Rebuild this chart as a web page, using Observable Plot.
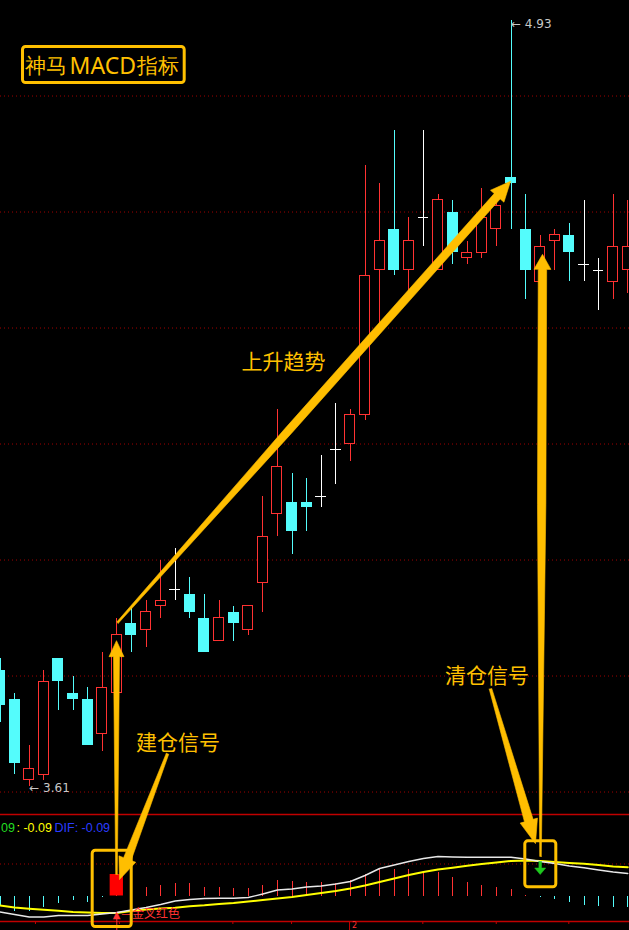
<!DOCTYPE html>
<html><head><meta charset="utf-8">
<script src="https://cdn.jsdelivr.net/npm/d3@7"></script>
<script src="https://cdn.jsdelivr.net/npm/@observablehq/plot@0.6"></script>
<style>
html,body{margin:0;padding:0;background:#000;}
#wrap{position:relative;width:629px;height:930px;overflow:hidden;background:#000;}
#wrap > svg{position:absolute;left:0;}
</style></head><body><div id="wrap"></div>
<script>
// ---------- data ----------
const opens  = [3.81,3.76,3.62,3.63,3.83,3.77,3.76,3.70,3.77,3.89,3.88,3.92,3.95,3.94,3.90,3.86,3.91,3.88,3.96,4.08,4.10,4.10,4.11,4.19,4.20,4.25,4.50,4.57,4.50,4.59,4.50,4.60,4.52,4.53,4.57,4.66,4.57,4.48,4.55,4.56,4.51,4.50,4.48,4.50];
const closes = [3.75,3.65,3.64,3.79,3.79,3.76,3.68,3.78,3.87,3.87,3.91,3.93,3.95,3.91,3.84,3.90,3.89,3.92,4.04,4.16,4.05,4.09,4.11,4.19,4.25,4.49,4.55,4.50,4.55,4.59,4.62,4.53,4.53,4.59,4.61,4.65,4.50,4.54,4.56,4.53,4.51,4.50,4.54,4.54];
const highs  = [3.83,3.77,3.68,3.81,3.83,3.80,3.78,3.84,3.90,3.92,3.93,4.00,4.02,3.97,3.94,3.93,3.92,3.92,4.11,4.26,4.15,4.14,4.18,4.27,4.26,4.68,4.65,4.74,4.59,4.74,4.63,4.62,4.55,4.64,4.64,4.93,4.63,4.56,4.57,4.58,4.62,4.52,4.63,4.62];
const lows   = [3.72,3.63,3.61,3.62,3.74,3.74,3.68,3.67,3.76,3.84,3.85,3.90,3.93,3.90,3.84,3.86,3.86,3.87,3.91,4.04,4.01,4.05,4.09,4.13,4.17,4.24,4.40,4.49,4.46,4.54,4.50,4.51,4.51,4.52,4.54,4.57,4.45,4.47,4.50,4.48,4.48,4.43,4.45,4.46];
const gridPrices = [4.8,4.6,4.4,4.2,4.0,3.8,3.6];

const dif  = [-0.080,-0.0925,-0.105,-0.105,-0.0975,-0.0975,-0.0975,-0.090,-0.0825,-0.070,-0.0575,-0.0425,-0.025,-0.0175,-0.0125,-0.011,-0.011,-0.0075,0.010,0.030,0.035,0.045,0.050,0.060,0.0725,0.1025,0.1375,0.155,0.1725,0.1875,0.1975,0.195,0.194,0.194,0.194,0.194,0.185,0.1725,0.1625,0.150,0.141,0.130,0.120,0.1125];
const dea  = [-0.0475,-0.0575,-0.064,-0.069,-0.074,-0.080,-0.0825,-0.085,-0.085,-0.075,-0.0675,-0.0625,-0.059,-0.051,-0.0465,-0.040,-0.035,-0.0275,-0.020,-0.0125,-0.005,0.005,0.015,0.025,0.0375,0.0525,0.070,0.0875,0.105,0.120,0.1325,0.141,0.151,0.160,0.1675,0.175,0.1775,0.175,0.170,0.165,0.161,0.155,0.1475,0.144];
const macd = [-0.0475,-0.076,-0.076,-0.056,-0.036,-0.0225,-0.031,-0.009,0.0025,0.015,0.044,0.0525,0.064,0.061,0.044,0.044,0.0375,0.0375,0.0525,0.0775,0.0725,0.0675,0.0675,0.061,0.0775,0.106,0.1375,0.1325,0.1325,0.1175,0.119,0.0925,0.069,0.0525,0.044,0.0325,0.0025,-0.006,-0.0175,-0.031,-0.0475,-0.0525,-0.056,-0.056];
const macdRefLevel = 0.16;
const dateTicks = [2.43, 8.18, 15.95, 19.97, 23.94, 28.96, 33.99, 38.96];
const monthTick = 23.94, monthLabel = "2";
const legendTexts = ["09", ": -0.09", "DIF: -0.09"];

// signals
const buyIdx = 8, buyMarkHeight = 0.1075;
const sellIdx = 37, sellArrowTop = 0.1725, sellArrowTip = 0.1075;
const crossLabel = "—金叉红色";

// annotations, in (candle index, price) units of the page-wide overlay
const titleParts = [
  {t: "神马", x: 3.17, y: 4.851, f: "Noto Sans CJK SC", s: 20.5},
  {t: "MACD", x: 7.04, y: 4.851, f: "DejaVu Sans", s: 23},
  {t: "指标", x: 10.82, y: 4.851, f: "Noto Sans CJK SC", s: 20.5}
];
const labels = [
  {t: "上升趋势", x: 19.42, y: 4.341},
  {t: "建仓信号", x: 12.19, y: 3.684},
  {t: "清仓信号", x: 33.36, y: 3.799}
];
const boxes = [
  {x1: 1.575, x2: 12.651, y1: 4.8845, y2: 4.8225},
  {x1: 6.349, x2: 9.021,  y1: 3.4988, y2: 3.3673},
  {x1: 35.979, x2: 38.103, y1: 3.5150, y2: 3.4357}
];
const arrows = [
  {id: "trend", t: [8.048, 3.892],  h: [34.966, 4.653], wt: 1.0, ws: 4.0, f: 0.45, hl: 20, hw: 9},
  {id: "buyUp", t: [7.979, 3.458],  h: [7.979, 3.861],  wt: 0.8, ws: 3.0, f: 1,    hl: 16, hw: 7.5},
  {id: "buyLb", t: [11.473, 3.666], h: [8.185, 3.449],  wt: 1.3, ws: 4.0, f: 1,    hl: 22, hw: 9},
  {id: "sellLb",t: [33.596, 3.778], h: [36.678, 3.511], wt: 1.3, ws: 4.5, f: 1,    hl: 24, hw: 9},
  {id: "sellUp",t: [37.021, 3.489], h: [37.158, 4.527], wt: 0.8, ws: 4.2, f: 0.6,  hl: 15, hw: 8.5}
];

// ---------- layout ----------
const W = 629, step = 14.6;
const xDomain = [0.5 / step, (W + 0.5) / step];
const pTop = 4.9647, pxPerYuan = 580;
const priceH = 813;
const priceDomain = [pTop - priceH / pxPerYuan, pTop];
const macdTop = 813, macdH = 117;
const macdDomain = [-0.1275, 0.4075];
const ovH = 930;
const ovDomain = [pTop - ovH / pxPerYuan, pTop];

const RED = "#ff3232", CYAN = "#54fcfc", WHITE = "#ffffff", ORANGE = "#ffc000";
const GRID = "#a00000", FRAME = "#c00000";

const candles = opens.map((o, i) => ({i, o, c: closes[i], h: highs[i], l: lows[i],
  kind: closes[i] > o ? "up" : closes[i] < o ? "down" : "flat"}));
const up = candles.filter(d => d.kind === "up");
const down = candles.filter(d => d.kind === "down");
const flat = candles.filter(d => d.kind === "flat");
const loI = d3.minIndex(lows), hiI = d3.maxIndex(highs);

const wrap = document.getElementById("wrap");
function place(svg, top) { svg.style.top = top + "px"; svg.style.position = "absolute"; svg.style.background = "transparent"; wrap.appendChild(svg); }

// ---------- price panel ----------
const price = Plot.plot({
  width: W, height: priceH, margin: 0,
  x: {domain: xDomain, axis: null},
  y: {domain: priceDomain, axis: null},
  style: {background: "transparent"},
  marks: [
    Plot.ruleY(gridPrices, {stroke: GRID, strokeDasharray: "1,3"}),
    Plot.ruleX(up, {x: "i", y1: "l", y2: "h", stroke: RED, shapeRendering: "crispEdges"}),
    Plot.ruleX(down, {x: "i", y1: "l", y2: "h", stroke: CYAN, shapeRendering: "crispEdges"}),
    Plot.ruleX(flat, {x: "i", y1: "l", y2: "h", stroke: WHITE, shapeRendering: "crispEdges"}),
    Plot.rect(up, {x1: d => d.i - 0.34, x2: d => d.i + 0.34, y1: "o", y2: "c", fill: "#000", stroke: RED, shapeRendering: "crispEdges"}),
    Plot.rect(down, {x1: d => d.i - 0.37, x2: d => d.i + 0.37, y1: "o", y2: "c", fill: CYAN, shapeRendering: "crispEdges"}),
    Plot.ruleY(flat, {x1: d => d.i - 0.36, x2: d => d.i + 0.36, y: "c", stroke: WHITE, shapeRendering: "crispEdges"}),
    Plot.text([loI], {x: d => d, y: d => lows[d], text: d => "← " + lows[d].toFixed(2), textAnchor: "start", dy: 1.5, fill: "#c8c8c8", fontSize: 12, fontFamily: "DejaVu Sans"}),
    Plot.text([hiI], {x: d => d, y: d => highs[d], text: d => "← " + highs[d].toFixed(2), textAnchor: "start", dy: 4, fill: "#c8c8c8", fontSize: 12, fontFamily: "DejaVu Sans"})
  ]
});
place(price, 0);

// ---------- MACD panel ----------
const xs = d3.scaleLinear(xDomain, [0, W]);
const ysM = d3.scaleLinear(macdDomain, [macdH - 9, 1]);
const ysO = d3.scaleLinear(ovDomain, [ovH, 0]);

function arrowPoly(a, xsc, ysc) {
  const tx = xsc(a.t[0]), ty = ysc(a.t[1]), hx = xsc(a.h[0]), hy = ysc(a.h[1]);
  const L = Math.hypot(hx - tx, hy - ty), ux = (hx - tx) / L, uy = (hy - ty) / L, nx = -uy, ny = ux;
  const bx = hx - a.hl * ux, by = hy - a.hl * uy;
  const m = a.f * (L - a.hl), mx = tx + m * ux, my = ty + m * uy;
  const pts = [[tx + a.wt*nx, ty + a.wt*ny], [mx + a.ws*nx, my + a.ws*ny], [bx + a.ws*nx, by + a.ws*ny],
    [bx + a.hw*nx, by + a.hw*ny], [hx, hy], [bx - a.hw*nx, by - a.hw*ny], [bx - a.ws*nx, by - a.ws*ny],
    [mx - a.ws*nx, my - a.ws*ny], [tx - a.wt*nx, ty - a.wt*ny], [tx + a.wt*nx, ty + a.wt*ny]];
  return pts.map(([px, py]) => ({id: a.id, x: xsc.invert(px), y: ysc.invert(py)}));
}

const hist = macd.map((v, i) => ({i, v}));
const sellArrow = arrowPoly({id: "sell", t: [sellIdx, sellArrowTop], h: [sellIdx, sellArrowTip], wt: 1.3, ws: 1.3, f: 1, hl: 6.5, hw: 5.5}, xs, ysM);

const macdPlot = Plot.plot({
  width: W, height: macdH, marginTop: 1, marginBottom: 9, marginLeft: 0, marginRight: 0,
  x: {domain: xDomain, axis: null},
  y: {domain: macdDomain, axis: null},
  style: {background: "transparent"},
  marks: [
    Plot.ruleY([macdRefLevel], {stroke: GRID, strokeDasharray: "1,3"}),
    Plot.ruleX(hist.filter(d => d.v >= 0), {x: "i", y1: 0, y2: "v", stroke: RED, shapeRendering: "crispEdges"}),
    Plot.ruleX(hist.filter(d => d.v < 0), {x: "i", y1: 0, y2: "v", stroke: CYAN, shapeRendering: "crispEdges"}),
    Plot.line(dea, {x: (d, i) => i, y: d => d, stroke: "#ffff00", strokeWidth: 2, curve: "linear"}),
    Plot.line(dif, {x: (d, i) => i, y: d => d, stroke: "#e8e8e8", strokeWidth: 1.4, curve: "linear"}),
    Plot.ruleY([macdDomain[1]], {stroke: FRAME, strokeWidth: 1.3}),
    Plot.ruleY([macdDomain[0]], {stroke: FRAME, strokeWidth: 1.3}),
    Plot.ruleX(dateTicks, {y1: macdDomain[0], y2: macdDomain[0] - 0.015, stroke: FRAME}),
    Plot.ruleX([monthTick], {y1: macdDomain[0], y2: macdDomain[0] - 0.06, stroke: FRAME}),
    Plot.text([monthLabel], {x: monthTick, frameAnchor: "bottom", dx: 5, dy: 6.5, lineAnchor: "bottom", fill: RED, fontSize: 8, fontFamily: "DejaVu Sans"}),
    Plot.rect([buyIdx], {x1: d => d - 0.455, x2: d => d + 0.455, y1: 0, y2: buyMarkHeight, fill: "#ff0000"}),
    Plot.line(sellArrow, {x: "x", y: "y", z: "id", fill: "#1ec81e", stroke: "#1ec81e", strokeWidth: 0.5}),
    Plot.ruleX([buyIdx], {y1: macdDomain[0] + 0.02, y2: macdDomain[0] - 0.06, stroke: RED}),
    Plot.text(["▲"], {x: buyIdx - 0.02, frameAnchor: "bottom", dy: -4, fill: RED, fontSize: 10, fontFamily: "DejaVu Sans"}),
    Plot.text([crossLabel], {x: buyIdx + 0.3, frameAnchor: "bottom", dy: -4, textAnchor: "start", fill: RED, fontSize: 12, fontFamily: "Noto Sans CJK SC"}),
    Plot.text([legendTexts[0]], {frameAnchor: "top-left", dx: 0.5, dy: 9, textAnchor: "start", fill: "#22dd22", fontSize: 12.5, fontFamily: "Liberation Sans"}),
    Plot.text([legendTexts[1]], {frameAnchor: "top-left", dx: 16, dy: 9, textAnchor: "start", fill: "#ffff00", fontSize: 12.5, fontFamily: "Liberation Sans"}),
    Plot.text([legendTexts[2]], {frameAnchor: "top-left", dx: 54, dy: 9, textAnchor: "start", fill: "#2a3cff", fontSize: 12.5, fontFamily: "Liberation Sans"})
  ]
});
place(macdPlot, macdTop);

// ---------- annotation overlay ----------
const arrowPts = arrows.flatMap(a => arrowPoly(a, xs, ysO));
const overlay = Plot.plot({
  width: W, height: ovH, margin: 0,
  x: {domain: xDomain, axis: null},
  y: {domain: ovDomain, axis: null},
  style: {background: "transparent"},
  marks: [
    Plot.line(arrowPts, {x: "x", y: "y", z: "id", fill: "#ffbe00", stroke: "#ffbe00", strokeWidth: 0.6}),
    Plot.rect(boxes, {x1: "x1", x2: "x2", y1: "y1", y2: "y2", rx: 3, fill: "none", stroke: ORANGE, strokeWidth: 3}),
    Plot.text(titleParts, {x: "x", y: "y", text: "t", fill: ORANGE, fontSize: d => d.s, fontFamily: d => d.f}),
    Plot.text(labels, {x: "x", y: "y", text: "t", fill: ORANGE, fontSize: 21, fontFamily: "Noto Sans CJK SC"})
  ]
});
overlay.style.pointerEvents = "none";
place(overlay, 0);
</script>
</body></html>
